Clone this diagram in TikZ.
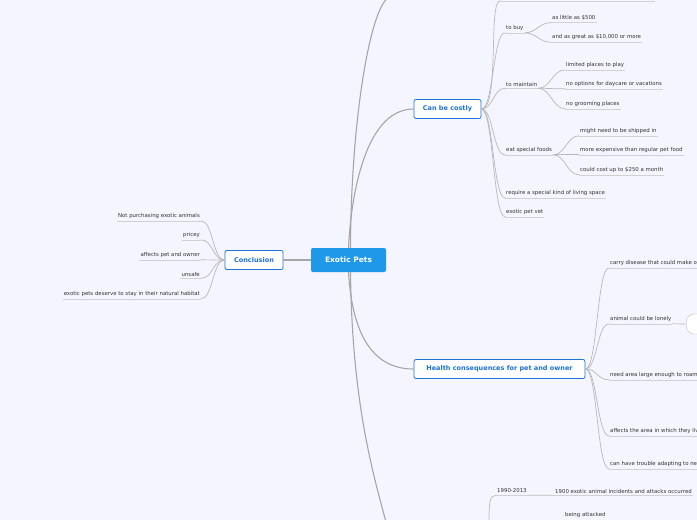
\documentclass[tikz,border=0pt]{standalone}
\usepackage{fontspec}
\setmainfont{DejaVu Sans}
\definecolor{rootc}{HTML}{1E98E8}
\definecolor{topc}{HTML}{1C72D6}
\begin{document}
\begin{tikzpicture}[x=1pt,y=-1pt,
 conn/.style={draw=black!28,line width=0.7pt},
 mainconn/.style={draw=black!35,line width=1.1pt},
 leaf/.style={font=\fontsize{5.4}{6}\selectfont,text=black!80,inner xsep=1pt,inner ysep=2pt,anchor=west},
 rleaf/.style={leaf,anchor=east},
 topic/.style={draw=topc,fill=white,rounded corners=2pt,line width=0.8pt,font=\fontsize{6.5}{7}\selectfont\bfseries,text=topc,minimum height=19pt,inner xsep=6pt},
 ul/.style={draw=black!18,line width=0.6pt}]
\fill[blue!4] (0,0) rectangle (697,520);
\useasboundingbox (0,0) rectangle (697,520);
\clip (0,0) rectangle (697,520);
\node[fill=rootc,rounded corners=2pt,text=white,font=\fontsize{7.5}{8}\selectfont\bfseries,minimum width=75pt,minimum height=24pt] (root) at (348.5,260) {Exotic Pets};
\node[topic,minimum width=58pt] (con) at (254,260) {Conclusion};
\node[topic,minimum width=67pt] (cost) at (447.5,109) {Can be costly};
\node[topic,minimum width=171pt] (hlth) at (499.5,369) {Health consequences for pet and owner};
\coordinate (topoff) at (388,-2);
\coordinate (botoff) at (386,522);
\draw[mainconn] (root.north) ++(2,0) .. controls (351,120) and (370,10) .. (topoff);
\draw[mainconn] (root.north) .. controls (352,180) and (370,109) .. (cost.west);
\draw[mainconn] (root.south) .. controls (352,330) and (370,369) .. (hlth.west);
\draw[mainconn] (root.south) ++(2,0) .. controls (352,400) and (372,470) .. (botoff);
\draw[mainconn] (con.east) -- (root.west);
\newcommand{\lf}[4]{\node[leaf] (#1) at (#2,#3) {#4};\draw[ul] (#1.south west) -- (#1.south east);}
\newcommand{\rl}[4]{\node[rleaf] (#1) at (#2,#3) {#4};\draw[ul] (#1.south west) -- (#1.south east);}
\newcommand{\cn}[2]{\draw[conn] (#1) .. controls +(12,0) and +(-12,0) .. (#2.south west);}
\newcommand{\cnr}[2]{\draw[conn] (#1) .. controls +(-12,0) and +(12,0) .. (#2.south east);}
\coordinate (ctop) at (655,1);
\draw[ul] (500,1) -- (ctop);
\draw[conn] (cost.east) .. controls (500,109) and (488,1) .. (500,1);
\lf{buy}{505}{28}{to buy}
\lf{b1}{551}{18}{as little as \$500}
\lf{b2}{551}{37.5}{and as great as \$10,000 or more}
\lf{mt}{505}{84}{to maintain}
\lf{m1}{565}{65}{limited places to play}
\lf{m2}{565}{84}{no options for daycare or vacations}
\lf{m3}{565}{104}{no grooming places}
\lf{fd}{505}{150}{eat special foods}
\lf{f1}{579}{131}{might need to be shipped in}
\lf{f2}{579}{150}{more expensive than regular pet food}
\lf{f3}{579}{170}{could cost up to \$250 a month}
\lf{sp}{505}{193}{require a special kind of living space}
\lf{vt}{505}{212}{exotic pet vet}
\foreach \c in {buy,mt,fd,sp,vt} {\cn{cost.east}{\c}}
\foreach \c in {b1,b2} {\cn{buy.south east}{\c}}
\foreach \c in {m1,m2,m3} {\cn{mt.south east}{\c}}
\foreach \c in {f1,f2,f3} {\cn{fd.south east}{\c}}
\lf{h1}{609}{263}{carry disease that could make other animals or people sick}
\lf{h2}{609}{319}{animal could be lonely}
\lf{h3}{609}{375}{need area large enough to roam freely}
\lf{h4}{609}{431}{affects the area in which they live}
\lf{h5}{609}{464}{can have trouble adapting to new environments}
\foreach \c in {h1,h2,h3,h4,h5} {\cn{hlth.east}{\c}}
\node[draw=black!25,fill=white,rounded corners=8pt,minimum width=40pt,minimum height=20pt,anchor=west] (lone) at (686,324) {};
\draw[conn] (h2.south east) -- (lone.west);
\lf{yr}{496}{491}{1990-2013}
\lf{inc}{554}{491}{1900 exotic animal incidents and attacks occurred}
\lf{att}{564}{515}{being attacked}
\draw[conn] (yr.south east) -- (inc.south west);
\draw[conn] (489,522) .. controls (489,500) and (490,496) .. (yr.south west);
\rl{c1}{201}{216}{Not purchasing exotic animals}
\rl{c2}{201}{235}{pricey}
\rl{c3}{201}{255}{affects pet and owner}
\rl{c4}{201}{274}{unsafe}
\rl{c5}{201}{294}{exotic pets deserve to stay in their natural habitat}
\foreach \c in {c1,c2,c3,c4,c5} {\cnr{con.west}{\c}}
\end{tikzpicture}
\end{document}
